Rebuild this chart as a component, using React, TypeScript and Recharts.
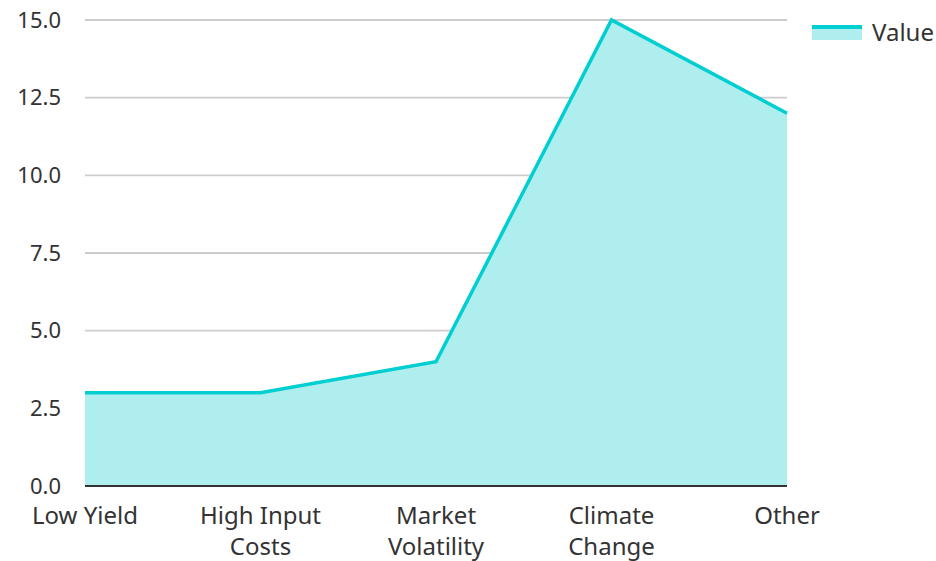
import { AreaChart, Area, XAxis, YAxis, CartesianGrid } from 'recharts';

const categories = ['Low Yield', 'High Input Costs', 'Market Volatility', 'Climate Change', 'Other'];
const values = [3, 3, 4, 15, 12];
const yTicks = [0, 2.5, 5, 7.5, 10, 12.5, 15];

const data = categories.map((name, i) => ({ name, value: values[i] }));

const FONT = '"Noto Sans", sans-serif';
const LABEL_SIZE = 24;

let ctx: CanvasRenderingContext2D | null = null;
function measure(s: string) {
  if (!ctx) ctx = document.createElement('canvas').getContext('2d');
  if (!ctx) return s.length * LABEL_SIZE * 0.55;
  ctx.font = `${LABEL_SIZE}px "Noto Sans"`;
  return ctx.measureText(s).width;
}

function wrap(label: string, maxWidth: number) {
  const lines: string[] = [];
  let cur = '';
  for (const w of label.split(' ')) {
    const next = cur ? cur + ' ' + w : w;
    if (cur && measure(next) > maxWidth) {
      lines.push(cur);
      cur = w;
    } else {
      cur = next;
    }
  }
  if (cur) lines.push(cur);
  return lines;
}

function XTick({ x, y, payload }: any) {
  const lines = wrap(String(payload.value), 150);
  return (
    <text x={x} y={y} textAnchor="middle" fontSize={LABEL_SIZE} fill="#333" fontFamily={FONT}>
      {lines.map((l, i) => (
        <tspan key={i} x={x} dy={i === 0 ? 30 : 31}>
          {l}
        </tspan>
      ))}
    </text>
  );
}

export default function App() {
  return (
    <div style={{ position: 'absolute', left: 0, top: 0, width: 936, height: 561, background: '#fff' }}>
      <AreaChart width={936} height={561} data={data} margin={{ top: 20, right: 149, bottom: 0, left: 0 }}>
        <XAxis
          dataKey="name"
          tick={<XTick />}
          tickLine={false}
          axisLine={{ stroke: '#333', strokeWidth: 2 }}
          interval={0}
          height={75}
        />
        <YAxis
          width={85}
          domain={[0, 15]}
          ticks={yTicks}
          tickFormatter={(v: number) => v.toFixed(1)}
          tick={{ fill: '#333', fontSize: 22, fontFamily: FONT }}
          tickLine={false}
          axisLine={false}
          tickMargin={18}
        />
        <Area
          type="linear"
          dataKey="value"
          stroke="#00CED1"
          strokeWidth={3.5}
          fill="#AFEEEE"
          fillOpacity={1}
          isAnimationActive={false}
        />
        <CartesianGrid vertical={false} stroke="#000" strokeOpacity={0.2} strokeWidth={1.8} />
      </AreaChart>
      <div
        style={{
          position: 'absolute',
          left: 812,
          top: 16,
          display: 'flex',
          alignItems: 'center',
          fontFamily: FONT,
          fontSize: LABEL_SIZE,
          color: '#333',
          lineHeight: '32px',
        }}
      >
        <svg width={50} height={16} style={{ marginRight: 10 }}>
          <rect x={0} y={2} width={50} height={14} fill="#AFEEEE" />
          <line x1={0} y1={3} x2={50} y2={3} stroke="#00CED1" strokeWidth={4} />
        </svg>
        Value
      </div>
    </div>
  );
}
